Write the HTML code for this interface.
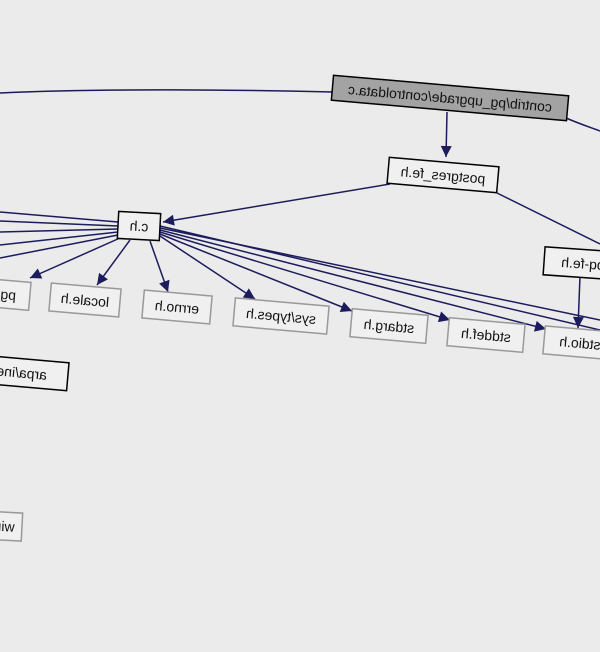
<!DOCTYPE html>
<html><head><style>
html,body{margin:0;padding:0;background:#ebebeb;}
svg{display:block;}
text{font-family:"Liberation Sans",sans-serif;font-size:14px;fill:#111;}
</style></head><body>
<svg width="600" height="652" viewBox="0 0 600 652" xmlns="http://www.w3.org/2000/svg">
<defs>
<marker id="a" viewBox="0 0 10 10" refX="10" refY="5" markerWidth="12" markerHeight="11" orient="auto-start-reverse" markerUnits="userSpaceOnUse">
<path d="M0,0 L10,5 L0,10 z" fill="#1c1c5c"/></marker>
</defs>
<g stroke="#1c1c5c" stroke-width="1.5" fill="none">
<path d="M333,92 C250,90 100,88 0,93"/>
<path d="M566,118 C580,124 592,128 600,131"/>
<path d="M447,112 L446,157" marker-end="url(#a)"/>
<path d="M390,184 L163,222" marker-end="url(#a)"/>
<path d="M497,193 L600,244"/>
<path d="M580,276 L578,328" marker-end="url(#a)"/>
<path d="M118,222 L0,212"/>
<path d="M118,226 L0,221"/>
<path d="M118,229 L0,232"/>
<path d="M118,232 L0,245"/>
<path d="M118,235 L0,258"/>
<path d="M120,238 L30,278" marker-end="url(#a)"/>
<path d="M130,240 L97,285" marker-end="url(#a)"/>
<path d="M150,241 L168,292" marker-end="url(#a)"/>
<path d="M160,236 L255,299" marker-end="url(#a)"/>
<path d="M160,234 L352,311" marker-end="url(#a)"/>
<path d="M160,232 L450,320" marker-end="url(#a)"/>
<path d="M160,230 L546,329" marker-end="url(#a)"/>
<path d="M160,228 L600,320"/>
<path d="M160,226 L600,330"/>
</g>
<g transform="translate(450,98) rotate(5)"><rect x="-118" y="-12.5" width="236" height="25" fill="#a3a3a3" stroke="#000" stroke-width="1.5"/><text transform="scale(-1,1)" text-anchor="middle" y="5">contrib/pg_upgrade/controldata.c</text></g>
<g transform="translate(443,175) rotate(5)"><rect x="-55" y="-13" width="110" height="26" fill="#f0f0f0" stroke="#000" stroke-width="1.5"/><text transform="scale(-1,1)" text-anchor="middle" y="5">postgres_fe.h</text></g>
<g transform="translate(139,226) rotate(3)"><rect x="-21" y="-13.5" width="42" height="27" fill="#f0f0f0" stroke="#000" stroke-width="1.5"/><text transform="scale(-1,1)" text-anchor="middle" y="5">c.h</text></g>
<g transform="translate(-20,292) rotate(5)"><rect x="-50" y="-14" width="100" height="28" fill="#f0f0f0" stroke="#999" stroke-width="1.5"/><text transform="scale(-1,1)" text-anchor="middle" y="5">pg_config.h</text></g>
<g transform="translate(85,300) rotate(5)"><rect x="-35" y="-14" width="70" height="28" fill="#f0f0f0" stroke="#999" stroke-width="1.5"/><text transform="scale(-1,1)" text-anchor="middle" y="5">locale.h</text></g>
<g transform="translate(177,307) rotate(5)"><rect x="-34" y="-14" width="68" height="28" fill="#f0f0f0" stroke="#999" stroke-width="1.5"/><text transform="scale(-1,1)" text-anchor="middle" y="5">errno.h</text></g>
<g transform="translate(281,316) rotate(5)"><rect x="-47" y="-14" width="94" height="28" fill="#f0f0f0" stroke="#999" stroke-width="1.5"/><text transform="scale(-1,1)" text-anchor="middle" y="5">sys/types.h</text></g>
<g transform="translate(389,326) rotate(5)"><rect x="-38" y="-14" width="76" height="28" fill="#f0f0f0" stroke="#999" stroke-width="1.5"/><text transform="scale(-1,1)" text-anchor="middle" y="5">stdarg.h</text></g>
<g transform="translate(486,335) rotate(5)"><rect x="-38" y="-14" width="76" height="28" fill="#f0f0f0" stroke="#999" stroke-width="1.5"/><text transform="scale(-1,1)" text-anchor="middle" y="5">stddef.h</text></g>
<g transform="translate(580,343) rotate(5)"><rect x="-36" y="-14" width="72" height="28" fill="#f0f0f0" stroke="#999" stroke-width="1.5"/><text transform="scale(-1,1)" text-anchor="middle" y="5">stdio.h</text></g>
<g transform="translate(590,264) rotate(4)"><rect x="-46" y="-14" width="92" height="28" fill="#f0f0f0" stroke="#000" stroke-width="1.5"/><text transform="scale(-1,1)" text-anchor="middle" y="5">libpq-fe.h</text></g>
<g transform="translate(14,372) rotate(5)"><rect x="-54" y="-14" width="108" height="28" fill="#f0f0f0" stroke="#000" stroke-width="1.5"/><text transform="scale(-1,1)" text-anchor="middle" y="5">arpa/inet.h</text></g>
<g transform="translate(-18,525) rotate(3)"><rect x="-40" y="-14" width="80" height="28" fill="#f0f0f0" stroke="#999" stroke-width="1.5"/><text transform="scale(-1,1)" text-anchor="middle" y="5">windows.h</text></g>
</svg>
</body></html>
